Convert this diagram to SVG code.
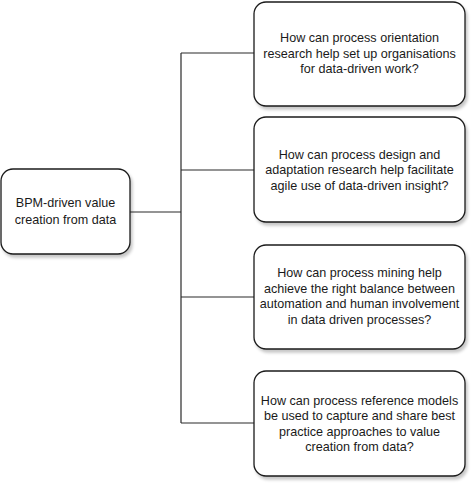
<svg xmlns="http://www.w3.org/2000/svg" width="474" height="484" viewBox="0 0 474 484">
<style>
.box{fill:#ffffff;stroke:#1a1a1a;stroke-width:1.3;filter:url(#sh)}
.t{font-family:"Liberation Sans",Arial,sans-serif;font-size:12.6px;fill:#1a1a1a;text-anchor:middle}
.c{fill:none;stroke:#2a2a2a;stroke-width:1.2}
</style>
<defs>
<filter id="sh" x="-10%" y="-10%" width="125%" height="130%">
<feDropShadow dx="2" dy="3" stdDeviation="1.5" flood-color="#000" flood-opacity="0.22"/>
</filter>
</defs>
<rect width="474" height="484" fill="#ffffff"/>
<g id="connectors">
<path class="c" d="M130 212 H181 M181 53 V423 M181 53 H254 M181 170 H254 M181 297 H254 M181 423 H254"/>
</g>
<g id="root">
<rect class="box" x="1" y="169" width="129" height="85" rx="12"/>
<text class="t" x="65.5" y="207">BPM-driven value</text>
<text class="t" x="65.5" y="224">creation from data</text>
</g>
<g id="q1">
<rect class="box" x="254" y="2" width="211" height="104" rx="12"/>
<text class="t" x="359.5" y="42">How can process orientation</text>
<text class="t" x="359.5" y="57.5">research help set up organisations</text>
<text class="t" x="359.5" y="73">for data-driven work?</text>
</g>
<g id="q2">
<rect class="box" x="254" y="117" width="211" height="105" rx="12"/>
<text class="t" x="359.5" y="159">How can process design and</text>
<text class="t" x="359.5" y="174">adaptation research help facilitate</text>
<text class="t" x="359.5" y="189.5">agile use of data-driven insight?</text>
</g>
<g id="q3">
<rect class="box" x="254" y="245" width="211" height="104" rx="12"/>
<text class="t" x="359.5" y="277">How can process mining help</text>
<text class="t" x="359.5" y="292.5">achieve the right balance between</text>
<text class="t" x="359.5" y="308">automation and human involvement</text>
<text class="t" x="359.5" y="323.5">in data driven processes?</text>
</g>
<g id="q4">
<rect class="box" x="254" y="371" width="211" height="105" rx="12"/>
<text class="t" x="359.5" y="405">How can process reference models</text>
<text class="t" x="359.5" y="420">be used to capture and share best</text>
<text class="t" x="359.5" y="435.5">practice approaches to value</text>
<text class="t" x="359.5" y="450.5">creation from data?</text>
</g>
</svg>
